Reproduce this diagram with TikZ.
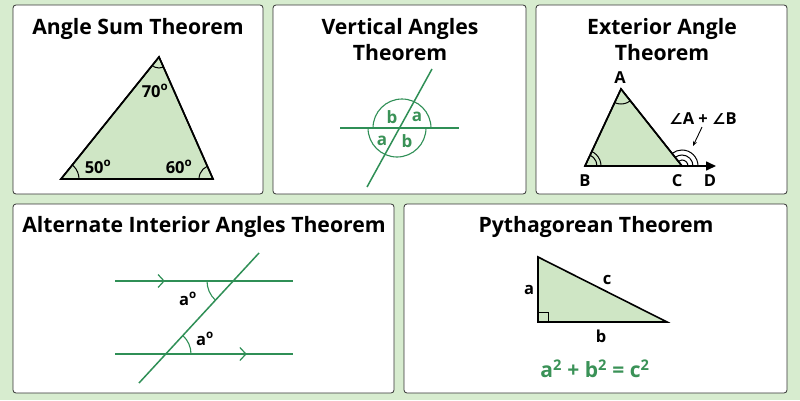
\documentclass[tikz,border=0pt]{standalone}
\usepackage{fontspec}
\setmainfont{Open Sans}
\newfontfamily\symfont{DejaVu Sans}
\usetikzlibrary{arrows.meta,decorations.markings,calc}
\definecolor{bgGreen}{HTML}{D7ECCF}
\definecolor{fillGreen}{HTML}{CFE6C5}
\definecolor{lineGreen}{HTML}{2F8F56}
\definecolor{textGreen}{HTML}{3A9257}
\begin{document}
\begin{tikzpicture}[
  x=1pt, y=1pt,
  panel/.style={draw=black!80, line width=0.8pt, fill=white, rounded corners=3pt},
  titletext/.style={font=\fontsize{21.2}{25}\selectfont\bfseries, anchor=base, align=center},
  labeltext/.style={font=\fontsize{16.5}{18}\selectfont\bfseries, inner sep=0pt},
  greenlabel/.style={labeltext, font=\fontsize{17}{18}\selectfont\bfseries, text=textGreen},
  figshape/.style={draw=black, line width=1.6pt, fill=fillGreen, line join=miter},
  anglemark/.style={draw=black, line width=1pt},
  greenline/.style={draw=lineGreen, line width=1.5pt},
  greenarc/.style={draw=lineGreen, line width=1.1pt},
  chevron/.style={postaction={decorate}, decoration={markings,
      mark=at position #1 with {\arrow[lineGreen, line width=1.2pt]{Straight Barb[length=6pt,width=13pt]}}}},
]
  \useasboundingbox (0,0) rectangle (800,400);
  % background and panels
  \fill[bgGreen] (0,0) rectangle (800,400);
  \path[panel] (13,206) rectangle (263,395);
  \path[panel] (273,206) rectangle (526,395);
  \path[panel] (536,206) rectangle (787,395);
  \path[panel] (13,7) rectangle (394,196);
  \path[panel] (404,7) rectangle (787,196);

  % angle sum
  \node[titletext] (sumtitle) at (138,366) {Angle Sum Theorem};
  \coordinate (sL) at (61,221);
  \coordinate (sR) at (213,221);
  \coordinate (sT) at (159,343);
  \path[figshape] (sL) -- (sR) -- (sT) -- cycle;
  \begin{scope}
    \clip (sL) -- (sR) -- (sT) -- cycle;
    \draw[anglemark] (sL) circle (18);
    \draw[anglemark] (sR) circle (14);
    \draw[anglemark] (sT) circle (11);
  \end{scope}
  \draw[figshape, fill=none] (sL) -- (sR) -- (sT) -- cycle;
  \node[labeltext] (sumT) at (155,309) {70\textsuperscript{o}};
  \node[labeltext] (sumL) at (98,233) {50\textsuperscript{o}};
  \node[labeltext] (sumR) at (179,233) {60\textsuperscript{o}};

  % vertical angles
  \node[titletext] (verttitle) at (400,340) {Vertical Angles\\Theorem};
  \coordinate (vO) at (399.5,272);
  \coordinate (vW) at (340,272);
  \coordinate (vE) at (459,272);
  \coordinate (vS) at (367,213);
  \coordinate (vN) at (432,331);
  \draw[greenarc] (431,272) arc[start angle=0, end angle=180, radius=29];
  \draw[greenarc] (368,272) arc[start angle=180, end angle=360, radius=29];
  \draw[greenline] (vW) -- (vE);
  \draw[greenline] (vS) -- (vN);
  \node[greenlabel] (vb1) at (392,283) {b};
  \node[greenlabel] (va1) at (417,283) {a};
  \node[greenlabel] (va2) at (382,259) {a};
  \node[greenlabel] (vb2) at (407,259) {b};

  % exterior angle
  \node[titletext] (exttitle) at (662,340) {Exterior Angle\\Theorem};
  \coordinate (eB) at (585,234);
  \coordinate (eC) at (682,234);
  \coordinate (eA) at (621,311);
  \coordinate (eD) at (716,234);
  \path[figshape] (eB) -- (eC) -- (eA) -- cycle;
  \begin{scope}
    \clip (eB) -- (eC) -- (eA) -- cycle;
    \draw[anglemark] (eA) circle (15);
    \draw[anglemark] (eB) circle (12);
    \draw[anglemark] (eB) circle (16);
  \end{scope}
  \foreach \r in {6,11,16}
    \draw[anglemark] ($(eC)+(\r,0)$) arc[start angle=0, end angle=128.4, radius=\r];
  \draw[figshape, fill=none] (eB) -- (eC) -- (eA) -- cycle;
  \draw[black, line width=1.6pt, -{Triangle[length=10pt,width=9pt]}] (eC) -- (eD);
  \node[labeltext] (eAl) at (620,322) {A};
  \node[labeltext] (eBl) at (585,219) {B};
  \node[labeltext] (eCl) at (677,219) {C};
  \node[labeltext] (eDl) at (710,219) {D};
  \node[labeltext] (esum) at (703,281) {{\symfont\fontsize{15}{16}\selectfont ∠}A + {\symfont\fontsize{15}{16}\selectfont ∠}B};
  \coordinate (etip) at (693,254);
  \draw[black, line width=0.9pt, -{Stealth[length=5pt,width=4pt]}] (esum.south) ++(-1,-2) -- (etip);

  % alternate interior angles
  \node[titletext] (alttitle) at (204,168) {Alternate Interior Angles Theorem};
  \coordinate (aTW) at (115,119);
  \coordinate (aTE) at (293,119);
  \coordinate (aBW) at (115,46);
  \coordinate (aBE) at (293,46);
  \coordinate (aS) at (139,17);
  \coordinate (aN) at (259,147);
  \coordinate (aP) at (233,119);
  \coordinate (aQ) at (166,46);
  \draw[greenline, chevron=0.28] (aTW) -- (aTE);
  \draw[greenline, chevron=0.74] (aBW) -- (aBE);
  \draw[greenline] (aS) -- (aN);
  \draw[greenarc] (aP) ++(180:26) arc[start angle=180, end angle=227.3, radius=26];
  \draw[greenarc] (aQ) ++(0:25) arc[start angle=0, end angle=47.3, radius=25];
  \node[labeltext] (aTop) at (188,101) {a\textsuperscript{o}};
  \node[labeltext] (aBot) at (205,61) {a\textsuperscript{o}};

  % pythagorean
  \node[titletext] (pyttitle) at (596,168) {Pythagorean Theorem};
  \coordinate (pT) at (538,143);
  \coordinate (pK) at (538,78);
  \coordinate (pR) at (667,78);
  \path[figshape] (pT) -- (pK) -- (pR) -- cycle;
  \draw[black, line width=1pt] (538,88) -- (548,88) -- (548,78);
  \node[labeltext] (pa) at (529,110) {a};
  \node[labeltext] (pc) at (607,120) {c};
  \node[labeltext] (pb) at (601,64) {b};
  \node[font=\fontsize{21}{24}\selectfont\bfseries, text=textGreen] (pform) at (595,31) {a\textsuperscript{2} + b\textsuperscript{2} = c\textsuperscript{2}};
\end{tikzpicture}
\end{document}
